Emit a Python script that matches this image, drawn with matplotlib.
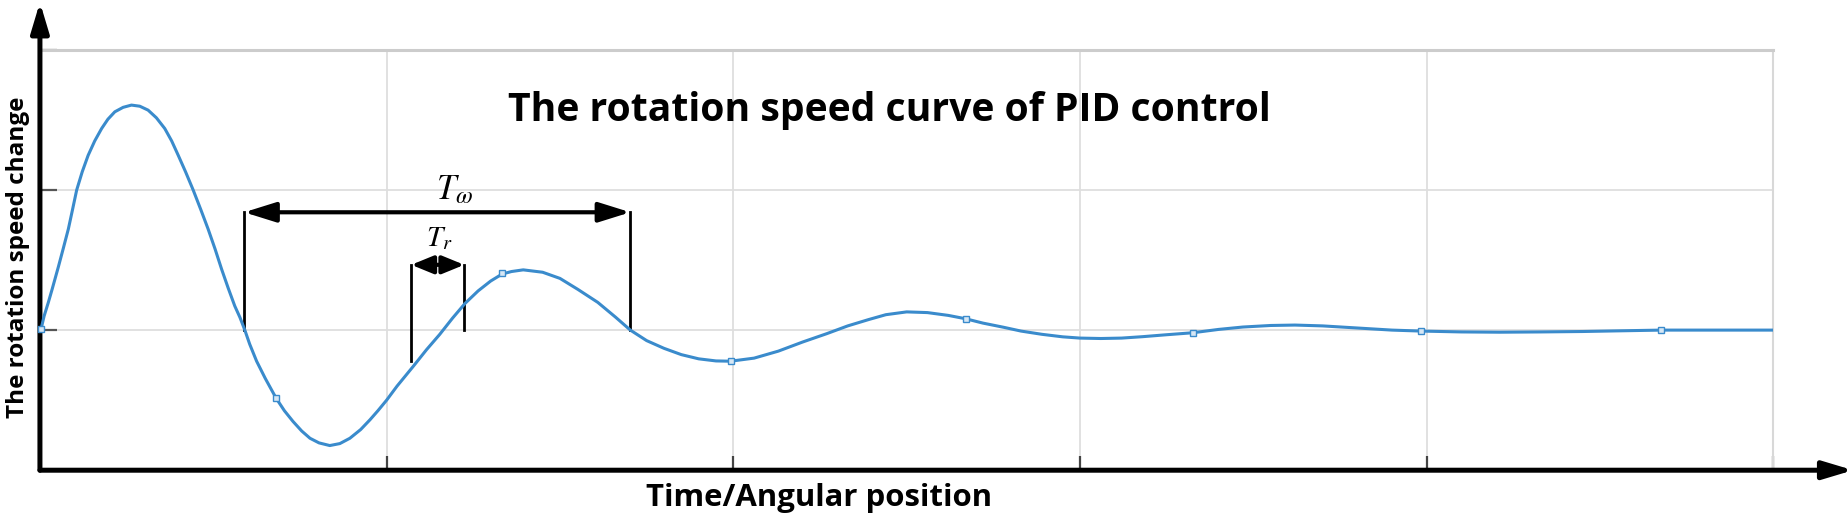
"""
Rotation speed curve of PID control, with the T_omega / T_r period marks.
"""
import matplotlib
matplotlib.use("Agg")
import matplotlib.pyplot as plt

# curve (x and y in grid units)
time_pos = [0.003, 0.012, 0.024, 0.035, 0.053, 0.067, 0.082, 0.094, 0.106, 0.122,
            0.139, 0.158, 0.178, 0.196, 0.216, 0.240, 0.264, 0.288, 0.312, 0.336,
            0.360, 0.380, 0.399, 0.420, 0.442, 0.464, 0.485, 0.505, 0.524, 0.543,
            0.562, 0.577, 0.591, 0.605, 0.625, 0.650, 0.681, 0.705, 0.730, 0.755,
            0.779, 0.805, 0.836, 0.865, 0.894, 0.925, 0.952, 0.975, 1.000, 1.030,
            1.077, 1.115, 1.153, 1.190, 1.226, 1.264, 1.300, 1.333, 1.360, 1.394,
            1.450, 1.500, 1.552, 1.609, 1.660, 1.703, 1.750, 1.800, 1.850, 1.900,
            1.950, 1.992, 2.060, 2.130, 2.200, 2.270, 2.330, 2.390, 2.440, 2.500,
            2.560, 2.620, 2.670, 2.720, 2.780, 2.830, 2.890, 2.950, 3.000, 3.060,
            3.120, 3.180, 3.250, 3.325, 3.400, 3.470, 3.550, 3.620, 3.700, 3.800,
            3.900, 3.985, 4.100, 4.210, 4.330, 4.450, 4.560, 4.676, 4.850, 5.000]
speed_change = [1.005, 1.10, 1.196, 1.29, 1.45, 1.58, 1.722, 1.86, 2.00, 2.13,
                2.247, 2.35, 2.439, 2.505, 2.558, 2.59, 2.606, 2.598, 2.570, 2.515,
                2.439, 2.35, 2.247, 2.13, 2.00, 1.86, 1.722, 1.58, 1.435, 1.30,
                1.172, 1.09, 1.00, 0.90, 0.778, 0.655, 0.515, 0.425, 0.348, 0.28,
                0.228, 0.195, 0.176, 0.19, 0.228, 0.29, 0.36, 0.425, 0.50, 0.60,
                0.742, 0.86, 0.969, 1.085, 1.19, 1.28, 1.35, 1.40, 1.418, 1.43,
                1.413, 1.369, 1.29, 1.198, 1.093, 1.00, 0.925, 0.87, 0.825, 0.795,
                0.780, 0.778, 0.80, 0.85, 0.915, 0.975, 1.03, 1.075, 1.11, 1.13,
                1.125, 1.105, 1.081, 1.05, 1.02, 0.993, 0.97, 0.952, 0.943, 0.94,
                0.943, 0.953, 0.967, 0.981, 1.005, 1.022, 1.033, 1.036, 1.03, 1.015,
                1.00, 0.993, 0.987, 0.985, 0.987, 0.99, 0.995, 1.00, 1.00, 1.00]

# square markers on the curve
marker_pos = [0.003, 0.681, 1.333, 1.992, 2.670, 3.325, 3.985, 4.676]
marker_val = [1.005, 0.515, 1.406, 0.778, 1.081, 0.981, 0.993, 1.00]

# period marks
t_omega_span = (0.589, 1.703)
t_omega_level = 1.841
t_r_span = (1.071, 1.224)
t_r_level = 1.466
t_r_left_bottom = 0.78

TITLE = "The rotation speed curve of PID control"
XLABEL = "Time/Angular position"
YLABEL = "The rotation speed change"

plt.rcParams["font.family"] = ["Open Sans", "DejaVu Sans"]
plt.rcParams["mathtext.fontset"] = "stix"

fig = plt.figure(figsize=(18.49, 5.17), dpi=100)
ax = fig.add_axes([0.0216, 0.0905, 0.9375, 0.813])
ax.set_xlim(0, 5)
ax.set_ylim(0, 3)

ax.set_xticks([1, 2, 3, 4, 5])
ax.set_yticks([1, 2, 3])
ax.set_xticklabels([])
ax.set_yticklabels([])
ax.tick_params(axis="x", direction="in", length=10, width=1.6, color="#444444")
ax.tick_params(axis="y", direction="in", length=12, width=1.6, color="#555555")
ax.grid(True, color="#dedede", linewidth=1.3)
ax.set_axisbelow(True)

for side in ["left", "bottom"]:
    ax.spines[side].set_visible(False)
ax.spines["top"].set_color("#cccccc")
ax.spines["top"].set_linewidth(2.2)
ax.spines["right"].set_color("#d8d8d8")
ax.spines["right"].set_linewidth(1.5)

# axis arrows
axis_style = dict(arrowstyle="-|>,head_length=1.5,head_width=0.45", mutation_scale=12,
                  lw=3.6, color="black", shrinkA=0, shrinkB=0)
ax.annotate("", xy=(5.23, 0), xytext=(0, 0), arrowprops=axis_style,
            annotation_clip=False)
ax.annotate("", xy=(0, 3.34), xytext=(0, 0), arrowprops=axis_style,
            annotation_clip=False)

ax.plot(time_pos, speed_change, color="#3a8bcc", linewidth=2.2, zorder=3,
        solid_joinstyle="round")
ax.plot(marker_pos, marker_val, linestyle="none", marker="s", markersize=5,
        markerfacecolor="#d6e7f5", markeredgecolor="#3a8bcc", markeredgewidth=1.0,
        zorder=4, clip_on=False)

# T_omega span
span_style = dict(arrowstyle="<|-|>,head_length=1.6,head_width=0.5", mutation_scale=12,
                  lw=3.0, color="black", shrinkA=0, shrinkB=0)
ax.annotate("", xy=(t_omega_span[1], t_omega_level), xytext=(t_omega_span[0], t_omega_level),
            arrowprops=span_style)
ax.plot([t_omega_span[0], t_omega_span[0]], [1.0, t_omega_level], color="black", lw=2.0)
ax.plot([t_omega_span[1], t_omega_span[1]], [1.0, t_omega_level], color="black", lw=2.0)
ax.text(1.197, 2.0, r"$T_\omega$", fontsize=25, ha="center", va="center")

# T_r span
small_style = dict(arrowstyle="<|-|>,head_length=1.1,head_width=0.45", mutation_scale=12,
                   lw=3.0, color="black", shrinkA=0, shrinkB=0)
ax.annotate("", xy=(t_r_span[1], t_r_level), xytext=(t_r_span[0], t_r_level),
            arrowprops=small_style)
ax.plot([t_r_span[0], t_r_span[0]], [t_r_left_bottom, t_r_level], color="black", lw=2.0)
ax.plot([t_r_span[1], t_r_span[1]], [1.0, t_r_level], color="black", lw=2.0)
ax.text(1.153, 1.655, r"$T_r$", fontsize=21, ha="center", va="center")

fig.text(0.481, 0.787, TITLE, fontsize=28.2, fontweight="bold", ha="center", va="center")
fig.text(0.443, 0.037, XLABEL, fontsize=22.4, fontweight="bold", ha="center", va="center")
fig.text(0.0098, 0.503, YLABEL, fontsize=17.5, fontweight="bold", rotation=90,
         ha="center", va="center")

fig.savefig("out.png", dpi=100)
